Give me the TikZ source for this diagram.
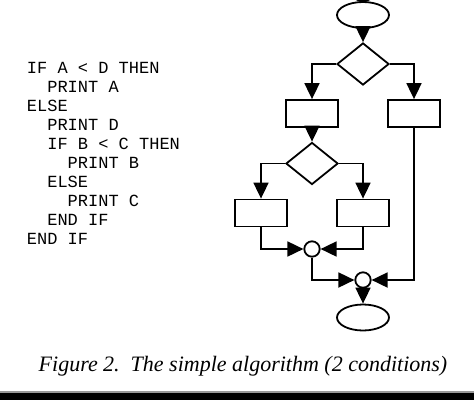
\documentclass[tikz,border=0pt]{standalone}
\usepackage{fontspec}
\setmainfont{Liberation Serif}
\newfontfamily\codefont{Liberation Mono}
\usetikzlibrary{shapes.geometric,arrows.meta}
\tikzset{
  lw/.style={line width=1.8pt},
  arr/.style={lw,-{Triangle[length=16pt,width=15pt]}},
  termnode/.style={ellipse,draw,lw,minimum width=52pt,minimum height=26pt,inner sep=0pt},
  decnode/.style={diamond,draw,lw,minimum width=52pt,minimum height=42pt,inner sep=0pt},
  procnode/.style={rectangle,draw,lw,minimum width=52pt,minimum height=27pt,inner sep=0pt},
  joinnode/.style={circle,draw,lw,minimum size=15.4pt,inner sep=0pt},
}
\begin{document}
\begin{tikzpicture}[x=1pt,y=-1pt]
\useasboundingbox (0,0) rectangle (474,400);
% flowchart
\node[termnode] (e1) at (363,15) {};
\node[decnode] (d1) at (363,64) {};
\node[procnode] (b1) at (312,113.5) {};
\node[procnode] (b2) at (414,113.5) {};
\node[decnode] (d2) at (312,163.5) {};
\node[procnode] (b3) at (261,213) {};
\node[procnode] (b4) at (363,213) {};
\node[joinnode] (c1) at (312,249) {};
\node[joinnode] (c2) at (363,280) {};
\node[termnode] (e2) at (363,317.5) {};
\fill (356,0) .. controls (360,3) and (366,3) .. (370,0) -- cycle;
\draw[arr] (e1) -- (d1);
\draw[arr] (d1.west) -| (b1.north);
\draw[arr] (d1.east) -| (b2.north);
\draw[arr] (b1) -- (d2);
\draw[arr] (d2.west) -| (b3.north);
\draw[arr] (d2.east) -| (b4.north);
\draw[arr] (b3.south) |- (c1.west);
\draw[arr] (b4.south) |- (c1.east);
\draw[arr] (c1.south) |- (c2.west);
\draw[arr] (b2.south) |- (c2.east);
\draw[arr] (c2) -- (e2);
% code
\node[anchor=base west,inner sep=0pt,align=left,font=\codefont\fontsize{17}{19}\selectfont] (code) at (26.7,244.3)
{IF A < D THEN\\
\ \ PRINT A\\
ELSE\\
\ \ PRINT D\\
\ \ IF B < C THEN\\
\ \ \ \ PRINT B\\
\ \ ELSE\\
\ \ \ \ PRINT C\\
\ \ END IF\\
END IF};
% caption
\node[anchor=base,inner sep=0pt,font=\itshape\fontsize{22}{26}\selectfont] (cap) at (243,371.7)
{Figure 2.\ \ The simple algorithm (2 conditions)};
% bottom bar
\fill[black!40] (0,391) rectangle (474,393);
\fill[black] (0,393) rectangle (474,400);
\end{tikzpicture}
\end{document}
